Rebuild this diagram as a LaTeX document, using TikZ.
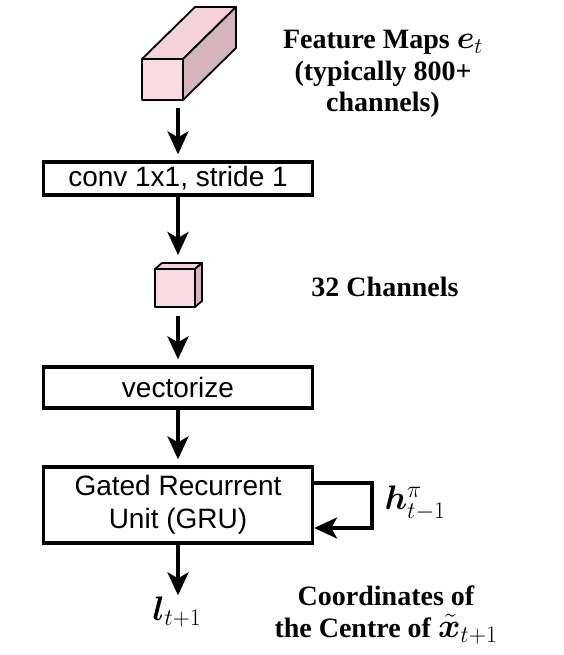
\RequirePackage{fix-cm}
\documentclass[tikz,border=0pt]{standalone}
\usepackage{amsmath,bm}
\usepackage{fontspec}
\setmainfont{Liberation Serif}
\setsansfont{Liberation Sans}
\usetikzlibrary{arrows.meta}
\definecolor{cfront}{RGB}{248,218,226}
\definecolor{ctop}{RGB}{245,210,218}
\definecolor{cside}{RGB}{214,180,189}
\begin{document}
\begin{tikzpicture}[x=1pt,y=-1pt,
  box/.style={draw, line width=3.3pt, minimum width=269pt, inner sep=0pt, font=\sffamily\fontsize{28}{33}\selectfont, align=center},
  arr/.style={line width=3.6pt, -{Stealth[length=23pt,width=21pt,inset=6pt]}},
  lbl/.style={font=\bfseries\fontsize{28}{31.5}\selectfont, align=center},
  mth/.style={font=\fontsize{34}{36}\selectfont},
  cube/.style={draw, line width=1.8pt, line join=round}]
\path[use as bounding box] (0,0) rectangle (563,655);
% big cuboid
\filldraw[cube, fill=ctop] (142,59) -- (195,7) -- (236,7) -- (183,59) -- cycle;
\filldraw[cube, fill=cside] (183,59) -- (236,7) -- (236,48) -- (183,100) -- cycle;
\filldraw[cube, fill=cfront] (142,59) rectangle (183,100);
% small cube
\filldraw[cube, fill=ctop] (155,269) -- (162,263) -- (202,263) -- (195,269) -- cycle;
\filldraw[cube, fill=cside] (195,269) -- (202,263) -- (202,301) -- (195,307) -- cycle;
\filldraw[cube, fill=cfront] (155,269) rectangle (195,307);
% boxes
\node[box, minimum height=33pt] (conv) at (178,178.5) {conv 1x1, stride 1};
\node[box, minimum height=41pt] (vec) at (178,387.5) {vectorize};
\node[box, minimum height=76pt] (gru) at (178,505) {Gated Recurrent\\Unit (GRU)};
% coordinates
\coordinate (bigb) at (178,108);
\coordinate (smt) at (178,255);
\coordinate (smb) at (178,316);
\coordinate (lp1) at (372,483);
\coordinate (lp2) at (372,528);
% labels
\node[lbl] (fm) at (383,74) {Feature Maps {\fontsize{32}{31.5}\selectfont$\boldsymbol{e}_t$}\\(typically 800+\\channels)};
\node[lbl] (ch) at (385,287) {32 Channels};
\node[mth, anchor=west] (h) at (381,503) {$\boldsymbol{h}^{\pi}_{t-1}$};
\node[mth] (l) at (177,612) {$\boldsymbol{l}_{t+1}$};
\node[lbl] (co) at (386,615) {Coordinates of\\the Centre of {\fontsize{34}{31.5}\selectfont$\tilde{\boldsymbol{x}}_{t+1}$}};
% arrows
\draw[arr] (bigb) -- ([yshift=6pt]conv.north);
\draw[arr] (conv.south) -- (smt);
\draw[arr] (smb) -- ([yshift=6pt]vec.north);
\draw[arr] (vec.south) -- ([yshift=6pt]gru.north);
\draw[arr] (gru.south) -- ([yshift=-2pt]gru.south |- l.north);
\draw[arr] (gru.east |- lp1) -- (lp1) -- (lp2) -- (gru.east |- lp2);
\end{tikzpicture}
\end{document}
